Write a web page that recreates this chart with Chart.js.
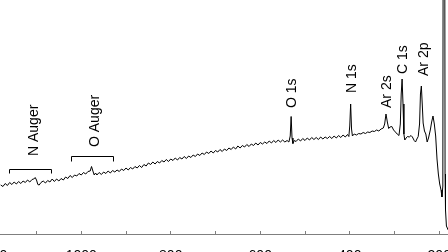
<!DOCTYPE html>
<html>
<head>
<meta charset="utf-8">
<script src="https://cdn.jsdelivr.net/npm/chart.js@4"></script>
<style>
	html, body { margin: 0; padding: 0; width: 448px; height: 252px; overflow: hidden; background: #fff; }
	#xps { position: absolute; left: -70px; top: 0; }
</style>
</head>
<body>
<canvas id="xps" width="571" height="264"></canvas>
<script>

// Survey spectrum, binding energy (eV) and intensity (a.u.)
const binding_energy = [
	1180, 1175, 1170, 1165, 1160, 1155, 1150, 1145, 1140, 1135, 1130, 1125, 1120, 1115, 1110, 1106, 1103, 1100,
	1097, 1094, 1090, 1085, 1080, 1075, 1070, 1065, 1060, 1055, 1050, 1045, 1040, 1035, 1030, 1025, 1020, 1015,
	1010, 1005, 1000, 995, 990, 985, 980, 977, 974, 971, 968, 965, 960, 955, 950, 945, 940, 935, 930, 925, 920,
	915, 910, 905, 900, 895, 890, 885, 880, 875, 870, 865, 860, 855, 850, 845, 840, 835, 830, 825, 820, 815, 810,
	805, 800, 795, 790, 785, 780, 775, 770, 765, 760, 755, 750, 745, 740, 735, 730, 725, 720, 715, 710, 705, 700,
	695, 690, 685, 680, 675, 670, 665, 660, 655, 650, 645, 640, 635, 630, 625, 620, 615, 610, 605, 600, 595, 590,
	585, 580, 575, 570, 565, 560, 555, 550, 545, 540, 536, 533, 531, 529, 527, 524, 520, 515, 510, 505, 500, 495,
	490, 485, 480, 475, 470, 465, 460, 455, 450, 445, 440, 435, 430, 425, 420, 415, 410, 405, 402, 400, 398, 396,
	394, 390, 385, 380, 375, 370, 365, 360, 355, 350, 345, 340, 335, 330, 325, 322, 319, 316, 313, 310, 306, 302,
	298, 294, 290, 287, 285, 283, 281, 279, 277, 274, 271, 267, 263, 260, 256, 253, 250, 247, 244, 242, 240, 238,
	236, 233, 230, 227, 224, 220, 217, 214, 211, 208, 205, 202, 199, 196, 194, 192, 191, 188, 187, 186, 184, 180
];
const intensity = [
	49, 47.5, 50.5, 48.5, 51.5, 49.5, 52, 50, 52.5, 50.5, 53, 51.5, 54, 52, 54.5, 55, 56.5, 54,
	49.5, 49, 51.5, 53, 51, 53.5, 52, 55, 52.5, 55, 53, 55.5, 54, 57, 55.5, 58.5, 56.5, 59,
	58, 60.5, 59, 61.5, 60, 62.5, 63, 67.5, 63, 59, 61, 59, 61.5, 59.5, 62, 60.5, 63, 61, 63.5, 62, 64,
	62.5, 65, 63.5, 66, 64, 66.5, 65, 67.5, 66, 68.5, 66.5, 69.5, 68, 71, 69.5, 72, 70, 72.5, 71, 73.5, 72, 74.5,
	72.5, 75, 73.5, 76, 74, 76.5, 75, 77.5, 75.5, 78, 76.5, 79, 77.5, 80, 78.5, 81, 79.5, 82, 80.5, 83, 81, 83.5,
	82, 84.5, 82.5, 85, 83.5, 86, 84.5, 87, 85, 88, 86, 88.5, 87, 89.5, 87.5, 90, 88.5, 91, 89, 91.5, 90, 92,
	90.5, 93, 91, 93.5, 91.5, 94, 92, 94, 92, 93.5, 92, 98, 117.5, 96, 90.5, 93.5, 92.5, 95, 93, 95.5, 93.5, 96,
	94, 96.5, 94.5, 96.5, 94.5, 97, 95, 97, 95.5, 97.5, 95.5, 98, 96, 98.5, 96.5, 99, 97, 99.5, 97.5, 108, 130, 105,
	98, 100, 99, 100.5, 100, 101.5, 100.5, 102, 101.5, 103, 102.5, 104, 103, 105, 106, 110, 120, 112, 105.5, 107, 107.5, 104,
	102, 100, 98.5, 110, 140, 155, 130, 100, 94, 96, 97.5, 97, 98.5, 97, 93.5, 92, 95, 97.5, 110, 140, 148, 130,
	111, 103, 100, 92, 96, 104, 112, 118, 110, 98, 75, 60, 50, 44, 37, 48, 400, 400, 60, 24, 8, 4
];

// Peak assignments: label text, energy of the label, intensity at the foot of the label
const peak_labels = ["N Auger", "O Auger", "O 1s", "N 1s", "Ar 2s", "C 1s", "Ar 2p"];
const peak_label_energy = [1107, 971, 531, 397, 319, 283, 237];
const peak_label_level = [78, 87, 126, 141, 126, 160, 158];

// Auger brackets
const bracket_start = [1162, 1023];
const bracket_end = [1067, 928];
const bracket_level = [64.7, 78.3];
const bracket_foot = [60.7, 73.3];

// x axis
const energy_min = 100;
const energy_max = 1300;
const energy_step = 100;


const spectrum_data = binding_energy.map((e, i) => ({x: e, y: intensity[i]}));

// draws the peak labels and the brackets at scale positions
const annotation_plugin = {
	id: "peak_annotations",
	afterDatasetsDraw(chart) {
		const ctx = chart.ctx;
		const xs = chart.scales.x;
		const ys = chart.scales.y;
		ctx.save();
		ctx.strokeStyle = "#000";
		ctx.lineWidth = 1;
		for (let i = 0; i < bracket_start.length; i++) {
			const x1 = Math.round(xs.getPixelForValue(bracket_start[i])) + 0.5;
			const x2 = Math.round(xs.getPixelForValue(bracket_end[i])) + 0.5;
			const yt = Math.round(ys.getPixelForValue(bracket_level[i])) + 0.5;
			const yb = Math.round(ys.getPixelForValue(bracket_foot[i])) + 0.5;
			ctx.beginPath();
			ctx.moveTo(x1, yb);
			ctx.lineTo(x1, yt);
			ctx.lineTo(x2, yt);
			ctx.lineTo(x2, yb);
			ctx.stroke();
		}
		ctx.fillStyle = "#000";
		ctx.font = "14px 'Liberation Sans', Arial, sans-serif";
		ctx.textAlign = "left";
		ctx.textBaseline = "alphabetic";
		for (let i = 0; i < peak_labels.length; i++) {
			const px = xs.getPixelForValue(peak_label_energy[i]);
			const py = ys.getPixelForValue(peak_label_level[i]);
			ctx.save();
			ctx.translate(px + 5, py);
			ctx.rotate(-Math.PI / 2);
			ctx.fillText(peak_labels[i], 0, 0);
			ctx.restore();
		}
		ctx.restore();
	}
};

const xps_plot = document.getElementById("xps").getContext("2d");

var XPS_Plot_Obj = new Chart(xps_plot, {
	type: "line",
	data: {
		datasets: [
			{
				// survey spectrum
				fill: false,
				lineTension: 0,
				borderColor: "#000",
				borderWidth: 1,
				pointRadius: 0,
				data: spectrum_data,
			}
		]
	},
	options: {
		responsive: false,
		animation: false,
		layout: { padding: 0 },
		plugins: {
			legend: { display: false },
			tooltip: { enabled: false },
		},
		scales: {
			x: {
				type: "linear",
				reverse: true,
				min: energy_min,
				max: energy_max,
				border: { display: true, color: "#7f7f7f", width: 1 },
				grid: {
					drawOnChartArea: false,
					drawTicks: true,
					tickLength: -3,
					color: "#7f7f7f",
				},
				ticks: {
					stepSize: energy_step,
					autoSkip: false,
					maxRotation: 0,
					padding: 17,
					color: "#000",
					font: { family: "'Liberation Sans', Arial, sans-serif", size: 14 },
					callback: (v) => (v % 200 === 0 ? v : ""),
				},
				afterFit: (scale) => { scale.height = 30; },
			},
			y: {
				display: false,
				min: 0,
				max: 234,
			}
		},
		events: [], // no hover
	},
	plugins: [annotation_plugin]
});

</script>
</body>
</html>
